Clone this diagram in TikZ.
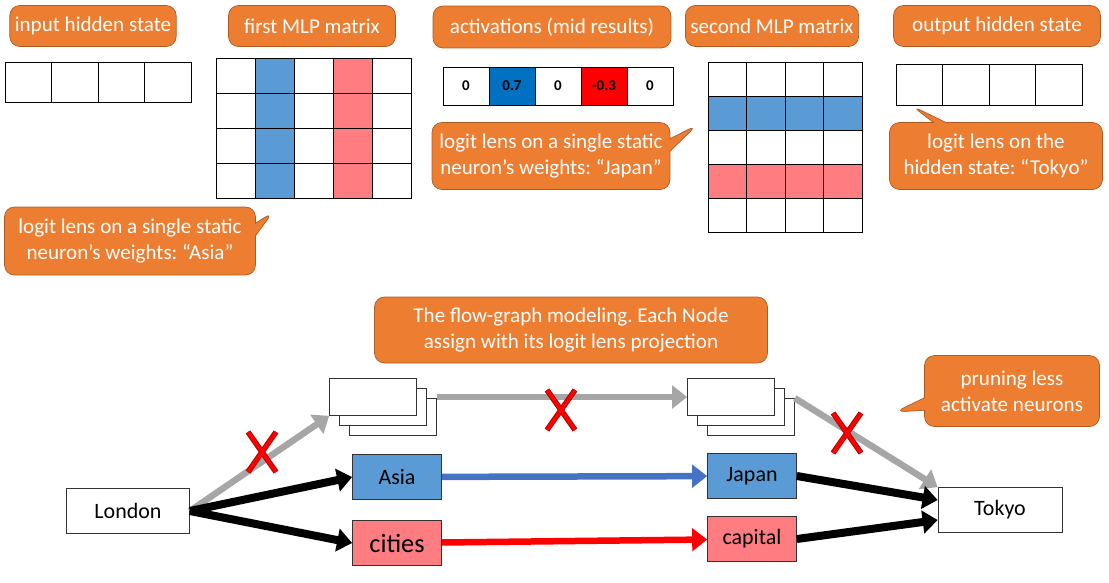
\documentclass[tikz,border=0pt]{standalone}
\usepackage{fontspec}
\setmainfont{Carlito}
\usetikzlibrary{shapes.callouts,arrows.meta}
\definecolor{lensorange}{HTML}{ED7D31}
\definecolor{lensedge}{HTML}{AE5A21}
\definecolor{neuronblue}{HTML}{5B9BD5}
\definecolor{neuronred}{HTML}{FF7C80}
\definecolor{actblue}{HTML}{0070C0}
\definecolor{flowblue}{HTML}{4472C4}
\tikzset{
    header/.style = {
        rectangle,
        rounded corners=2mm,
        fill=lensorange,
        draw=lensedge,
        text=white,
        font=\fontsize{12}{13}\selectfont,
        inner sep=1mm,
        outer sep=0mm
    },
    lens/.style = {
        header,
        rectangle callout,
        align=center,
        font=\fontsize{12}{15}\selectfont
    },
    cell/.style = {
        rectangle,
        draw=black,
        anchor=north west,
        inner sep=0pt,
        outer sep=0pt
    },
    word/.style = {
        rectangle,
        draw=black!80,
        font=\fontsize{12.5}{14}\selectfont,
        minimum width=1.78cm,
        minimum height=0.9cm,
        inner sep=0pt
    },
    sheet/.style = {
        rectangle,
        draw=black!80,
        fill=white,
        minimum width=1.74cm,
        minimum height=0.74cm
    },
    strong/.style = {-{Triangle[length=3mm,width=4.5mm]}, line width=1.6mm},
    pruned/.style = {strong, draw=black!35, line width=1.3mm},
    pics/cut/.style = {
        code = {\draw[red!70!black, line width=1.1mm] (-14,-20) -- (14,20) (-14,20) -- (14,-20);
                \draw[red, line width=0.7mm] (-14,-20) -- (14,20) (-14,20) -- (14,-20);}
    }
}
\newcommand{\apos}{\symbol{39}}

\begin{document}
\frenchspacing
\begin{tikzpicture}[x=0.02cm,y=-0.02cm]
    \useasboundingbox (0,0) rectangle (1109,582);
    % top row: hidden states and matrices
    \node [header, minimum width=2.96cm, minimum height=0.82cm] (inhead) at (93,26) {input hidden state};
    \node [header, minimum width=3.34cm, minimum height=0.82cm] (mlp1head) at (312,26) {first MLP matrix};
    \node [header, minimum width=4.76cm, minimum height=0.84cm] (acthead) at (552,27) {activations (mid results)};
    \node [header, minimum width=3.38cm, minimum height=0.82cm] (mlp2head) at (772,26) {second MLP matrix};
    \node [header, minimum width=4.14cm, minimum height=0.82cm] (outhead) at (997,26) {output hidden state};

    \foreach \i in {0,...,3}
        \node [cell, minimum width=0.93cm, minimum height=0.8cm] (in\i) at (5+46.5*\i,62) {};
    \foreach \i in {0,...,4}
        \foreach \j in {0,...,3} {
            \ifnum\i=1 \def\fc{neuronblue}\else\ifnum\i=3 \def\fc{neuronred}\else\def\fc{white}\fi\fi
            \node [cell, fill=\fc, minimum width=0.78cm, minimum height=0.7cm] (wa\i\j) at (216+39*\i,58+35*\j) {};
        }
    \foreach \v/\fc [count=\i from 0] in {0/white,0.7/actblue,0/white,-0.3/red,0/white}
        \node [cell, fill=\fc, minimum width=0.92cm, minimum height=0.76cm,
               font=\fontsize{8.5}{9}\selectfont\bfseries] (act\i) at (443+46*\i,67) {\v};
    \foreach \j in {0,...,4}
        \foreach \i in {0,...,3} {
            \ifnum\j=1 \def\fc{neuronblue}\else\ifnum\j=3 \def\fc{neuronred}\else\def\fc{white}\fi\fi
            \node [cell, fill=\fc, minimum width=0.77cm, minimum height=0.68cm] (wb\j\i) at (708+38.5*\i,62+34*\j) {};
        }
    \foreach \i in {0,...,3}
        \node [cell, minimum width=0.93cm, minimum height=0.82cm] (out\i) at (896+46.5*\i,64) {};

    \node [lens, minimum width=5.02cm, minimum height=1.36cm, callout absolute pointer={(273,212)}] (lensasia) at (130,241)
        {logit lens on a single static\\neuron\apos s weights: ``Asia''};
    \node [lens, minimum width=4.76cm, minimum height=1.34cm, callout absolute pointer={(697,125)}] (lensjapan) at (551,156)
        {logit lens on a single static\\neuron\apos s weights: ``Japan''};
    \node [lens, minimum width=4.26cm, minimum height=1.34cm, callout absolute pointer={(912,106)}] (lenstokyo) at (996,156)
        {logit lens on the\\hidden state: ``Tokyo''};

    % bottom: flow graph
    \node [lens, minimum width=7.86cm, minimum height=1.32cm, rectangle] (flowlens) at (571,330)
        {The flow-graph modeling. Each Node\\assign with its logit lens projection};
    \node [lens, minimum width=3.5cm, minimum height=1.42cm, callout absolute pointer={(895,412)}] (prunelens) at (1012,391)
        {pruning less\\activate neurons};

    \node [word, minimum width=2.46cm] (london) at (128,511) {London};
    \node [word, fill=neuronblue] (asia) at (397,477) {Asia};
    \node [word, fill=neuronred, font=\fontsize{15}{17}\selectfont] (cities) at (397,543) {cities};
    \node [word, fill=neuronblue] (japan) at (752,476) {Japan};
    \node [word, fill=neuronred] (capital) at (752,539) {capital};
    \node [word, minimum width=2.48cm] (tokyo) at (1000,510) {Tokyo};

    \node [sheet] (stackLc) at (393,417) {};
    \node [sheet] (stackLb) at (383,407) {};
    \node [sheet] (stackLa) at (373,397) {};
    \node [sheet] (stackRc) at (751,417) {};
    \node [sheet] (stackRb) at (741,407) {};
    \node [sheet] (stackRa) at (731,397) {};

    \draw [pruned] (london.east) -- (stackLa.south west);
    \draw [pruned] (stackLc.east |- stackLa.east) -- (stackRa.west);
    \draw [pruned] (stackRc.north east) -- (tokyo.north west);
    \draw [strong] (london.east) -- (asia.west);
    \draw [strong] (london.east) -- (cities.west);
    \draw [strong, draw=flowblue, line width=1.3mm] (asia) -- (japan);
    \draw [strong, draw=red, line width=1.3mm] (cities) -- (capital);
    \draw [strong] (japan.east) -- ([yshift=2mm]tokyo.west);
    \draw [strong] (capital.east) -- ([yshift=-2mm]tokyo.west);

    \pic at (262,452) {cut};
    \pic at (561,410) {cut};
    \pic at (847,433) {cut};
\end{tikzpicture}
\end{document}
